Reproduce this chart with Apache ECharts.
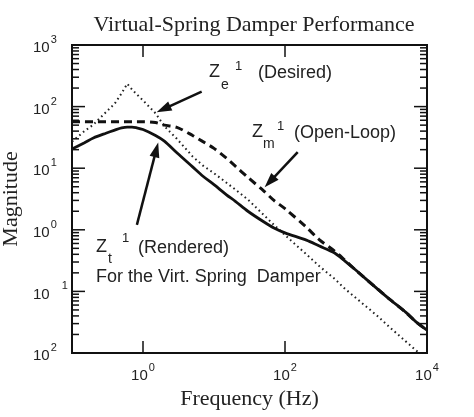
<!DOCTYPE html>
<html>
<head>
<meta charset="utf-8">
<script src="https://cdn.jsdelivr.net/npm/echarts@6/dist/echarts.min.js"></script>
<style>
html, body { margin: 0; padding: 0; background: #fff; }
#chart { width: 474px; height: 417px; }
</style>
</head>
<body>
<div id="chart"></div>
<script>
// frequency samples (Hz) and magnitudes
var freq = [0.1, 0.15, 0.2, 0.3, 0.4, 0.5, 0.6, 0.7, 0.8, 1, 1.5, 2, 3, 5, 7, 10, 15, 20, 30, 50, 70, 100, 200, 300, 500, 700, 1000, 2000, 3000, 5000, 7000, 10000];
var desired = [27, 40, 51, 81, 112, 165, 235, 190, 162, 126, 78, 48, 30, 15.5, 11, 8.3, 5.8, 4.5, 3.1, 1.75, 1.2, 0.82, 0.4, 0.26, 0.16, 0.11, 0.078, 0.04, 0.026, 0.0155, 0.011, 0.008];
var openLoop = [57, 57, 57, 57, 57, 57, 57, 57, 57, 57, 55, 50, 46, 34, 27, 21, 14.5, 10.8, 7.1, 4.3, 3.0, 2.2, 1.1, 0.7, 0.45, 0.32, 0.22, 0.11, 0.074, 0.046, 0.032, 0.0235];
var rendered = [20.5, 26, 31, 37, 41.5, 45, 46.5, 46.5, 45.5, 42.5, 34, 27.5, 17.8, 10.5, 7.4, 5.4, 3.7, 2.9, 2.0, 1.35, 1.07, 0.89, 0.68, 0.55, 0.42, 0.31, 0.22, 0.11, 0.074, 0.046, 0.032, 0.0235];

// axis ticks / labels
var xMin = 0.1, xMax = 10000, yMin = 0.01, yMax = 1000;
var xLabelExp = [0, 2, 4];
var xMajorTicks = [1, 100];
var yMajorTicks = [0.01, 0.1, 1, 10, 100, 1000];
var yMinorSteps = [2, 3, 4, 5, 6, 7, 8, 9];
var ySup = { '-2': '2', '-1': '\u20031', '0': '0', '1': '1', '2': '2', '3': '3' };

// arrows: [tail, head] in data coordinates
var arrowDesired = [[6.7, 175], [1.94, 91]];
var arrowOpen = [[151, 18.2], [61, 6.0]];
var arrowRendered = [[0.82, 1.2], [1.54, 20]];

var chart = echarts.init(document.getElementById('chart'));

function pairs(ys) {
    return freq.map(function (f, i) { return [f, ys[i]]; });
}

var ticks = [];
xMajorTicks.forEach(function (v) { ticks.push([v, yMin, 2]); });
yMajorTicks.forEach(function (v) { ticks.push([xMin, v, 0]); });
yMajorTicks.slice(0, -1).forEach(function (v) {
    yMinorSteps.forEach(function (m) { ticks.push([xMin, v * m, 1]); });
});

function renderTick(params, api) {
    var cs = params.coordSys;
    var kind = api.value(2);
    var st = { stroke: '#111', lineWidth: 1.5 };
    var b = cs.y + cs.height, r = cs.x + cs.width;
    if (kind === 2) {
        var px = api.coord([api.value(0), yMin])[0];
        return { type: 'group', children: [
            { type: 'line', shape: { x1: px, y1: b, x2: px, y2: b - 12 }, style: st },
            { type: 'line', shape: { x1: px, y1: cs.y, x2: px, y2: cs.y + 12 }, style: st }
        ] };
    }
    var py = api.coord([xMin, api.value(1)])[1];
    var len = kind === 0 ? 13 : 7;
    return { type: 'group', children: [
        { type: 'line', shape: { x1: cs.x, y1: py, x2: cs.x + len, y2: py }, style: st },
        { type: 'line', shape: { x1: r, y1: py, x2: r - len, y2: py }, style: st }
    ] };
}

function arrow(a) {
    return {
        silent: true,
        symbol: ['none', 'triangle'],
        symbolSize: [10, 15],
        label: { show: false },
        lineStyle: { color: '#111', width: 2.5, type: 'solid' },
        emphasis: { disabled: true },
        data: [[{ coord: a[0] }, { coord: a[1] }]]
    };
}

var labelRich = {
    b: { fontSize: 15, fontFamily: 'Liberation Sans', color: '#222', padding: [6, 0, 0, 0] },
    s: { fontSize: 11, fontFamily: 'Liberation Sans', color: '#222', padding: [0, 0, 10, 1] }
};

var sans = 'Liberation Sans';
function txt(x, y, s, size) {
    return { type: 'text', x: x, y: y, silent: true,
        style: { text: s, fontSize: size, fontFamily: sans, fill: '#222', align: 'left', verticalAlign: 'middle' } };
}

var option = {
    animation: false,
    backgroundColor: '#fff',
    title: {
        text: 'Virtual-Spring Damper Performance',
        left: 249,
        top: 9,
        textAlign: 'center',
        textStyle: { fontFamily: 'Liberation Serif', fontSize: 22, fontWeight: 'normal', color: '#222' }
    },
    grid: {
        left: 72, right: 47, top: 45, bottom: 64,
        show: true, borderColor: '#111', borderWidth: 2,
        outerBoundsMode: 'none'
    },
    xAxis: {
        type: 'log', logBase: 10, min: xMin, max: xMax,
        name: 'Frequency (Hz)', nameLocation: 'middle', nameGap: 33,
        nameTextStyle: { fontFamily: 'Liberation Serif', fontSize: 22, color: '#222' },
        axisLine: { show: false }, axisTick: { show: false }, splitLine: { show: false },
        axisLabel: {
            margin: 9,
            formatter: function (v) {
                var e = Math.round(Math.log10(v));
                if (xLabelExp.indexOf(e) < 0) return '';
                return '{b|10}{s|' + e + '}';
            },
            rich: labelRich
        }
    },
    yAxis: {
        type: 'log', logBase: 10, min: yMin, max: yMax,
        name: 'Magnitude', nameLocation: 'middle', nameGap: 43,
        nameTextStyle: { fontFamily: 'Liberation Serif', fontSize: 22, color: '#222' },
        axisLine: { show: false }, axisTick: { show: false }, splitLine: { show: false },
        axisLabel: {
            margin: 39,
            align: 'left',
            formatter: function (v) {
                var e = Math.round(Math.log10(v));
                return '{b|10}{s|' + ySup[e] + '}';
            },
            rich: labelRich
        }
    },
    series: [
        {
            name: 'Desired', type: 'line', data: pairs(desired), showSymbol: false,
            lineStyle: { color: '#222', width: 2, type: [1.6, 3.2] },
            markLine: arrow(arrowDesired)
        },
        {
            name: 'Open-Loop', type: 'line', data: pairs(openLoop), showSymbol: false, smooth: 0.3,
            lineStyle: { color: '#111', width: 3, type: [8, 5] },
            markLine: arrow(arrowOpen)
        },
        {
            name: 'Rendered', type: 'line', data: pairs(rendered), showSymbol: false, smooth: 0.3,
            lineStyle: { color: '#111', width: 2.8 },
            markLine: arrow(arrowRendered)
        },
        {
            type: 'custom', renderItem: renderTick, data: ticks, silent: true, clip: false,
            encode: { x: 0, y: 1 }, z: 5
        }
    ],
    graphic: [
        txt(209, 72, 'Z', 18), txt(221, 85, 'e', 14), txt(235, 66, '1', 13), txt(258, 73, '(Desired)', 18),
        txt(252, 132, 'Z', 18), txt(263, 144, 'm', 14), txt(277, 126, '1', 13), txt(294, 133, '(Open-Loop)', 18),
        txt(96, 247, 'Z', 18), txt(108, 259, 't', 14), txt(122, 238, '1', 13), txt(138, 248, '(Rendered)', 18),
        txt(96, 277, 'For the Virt. Spring  Damper', 18)
    ]
};

chart.setOption(option);
</script>
</body>
</html>
